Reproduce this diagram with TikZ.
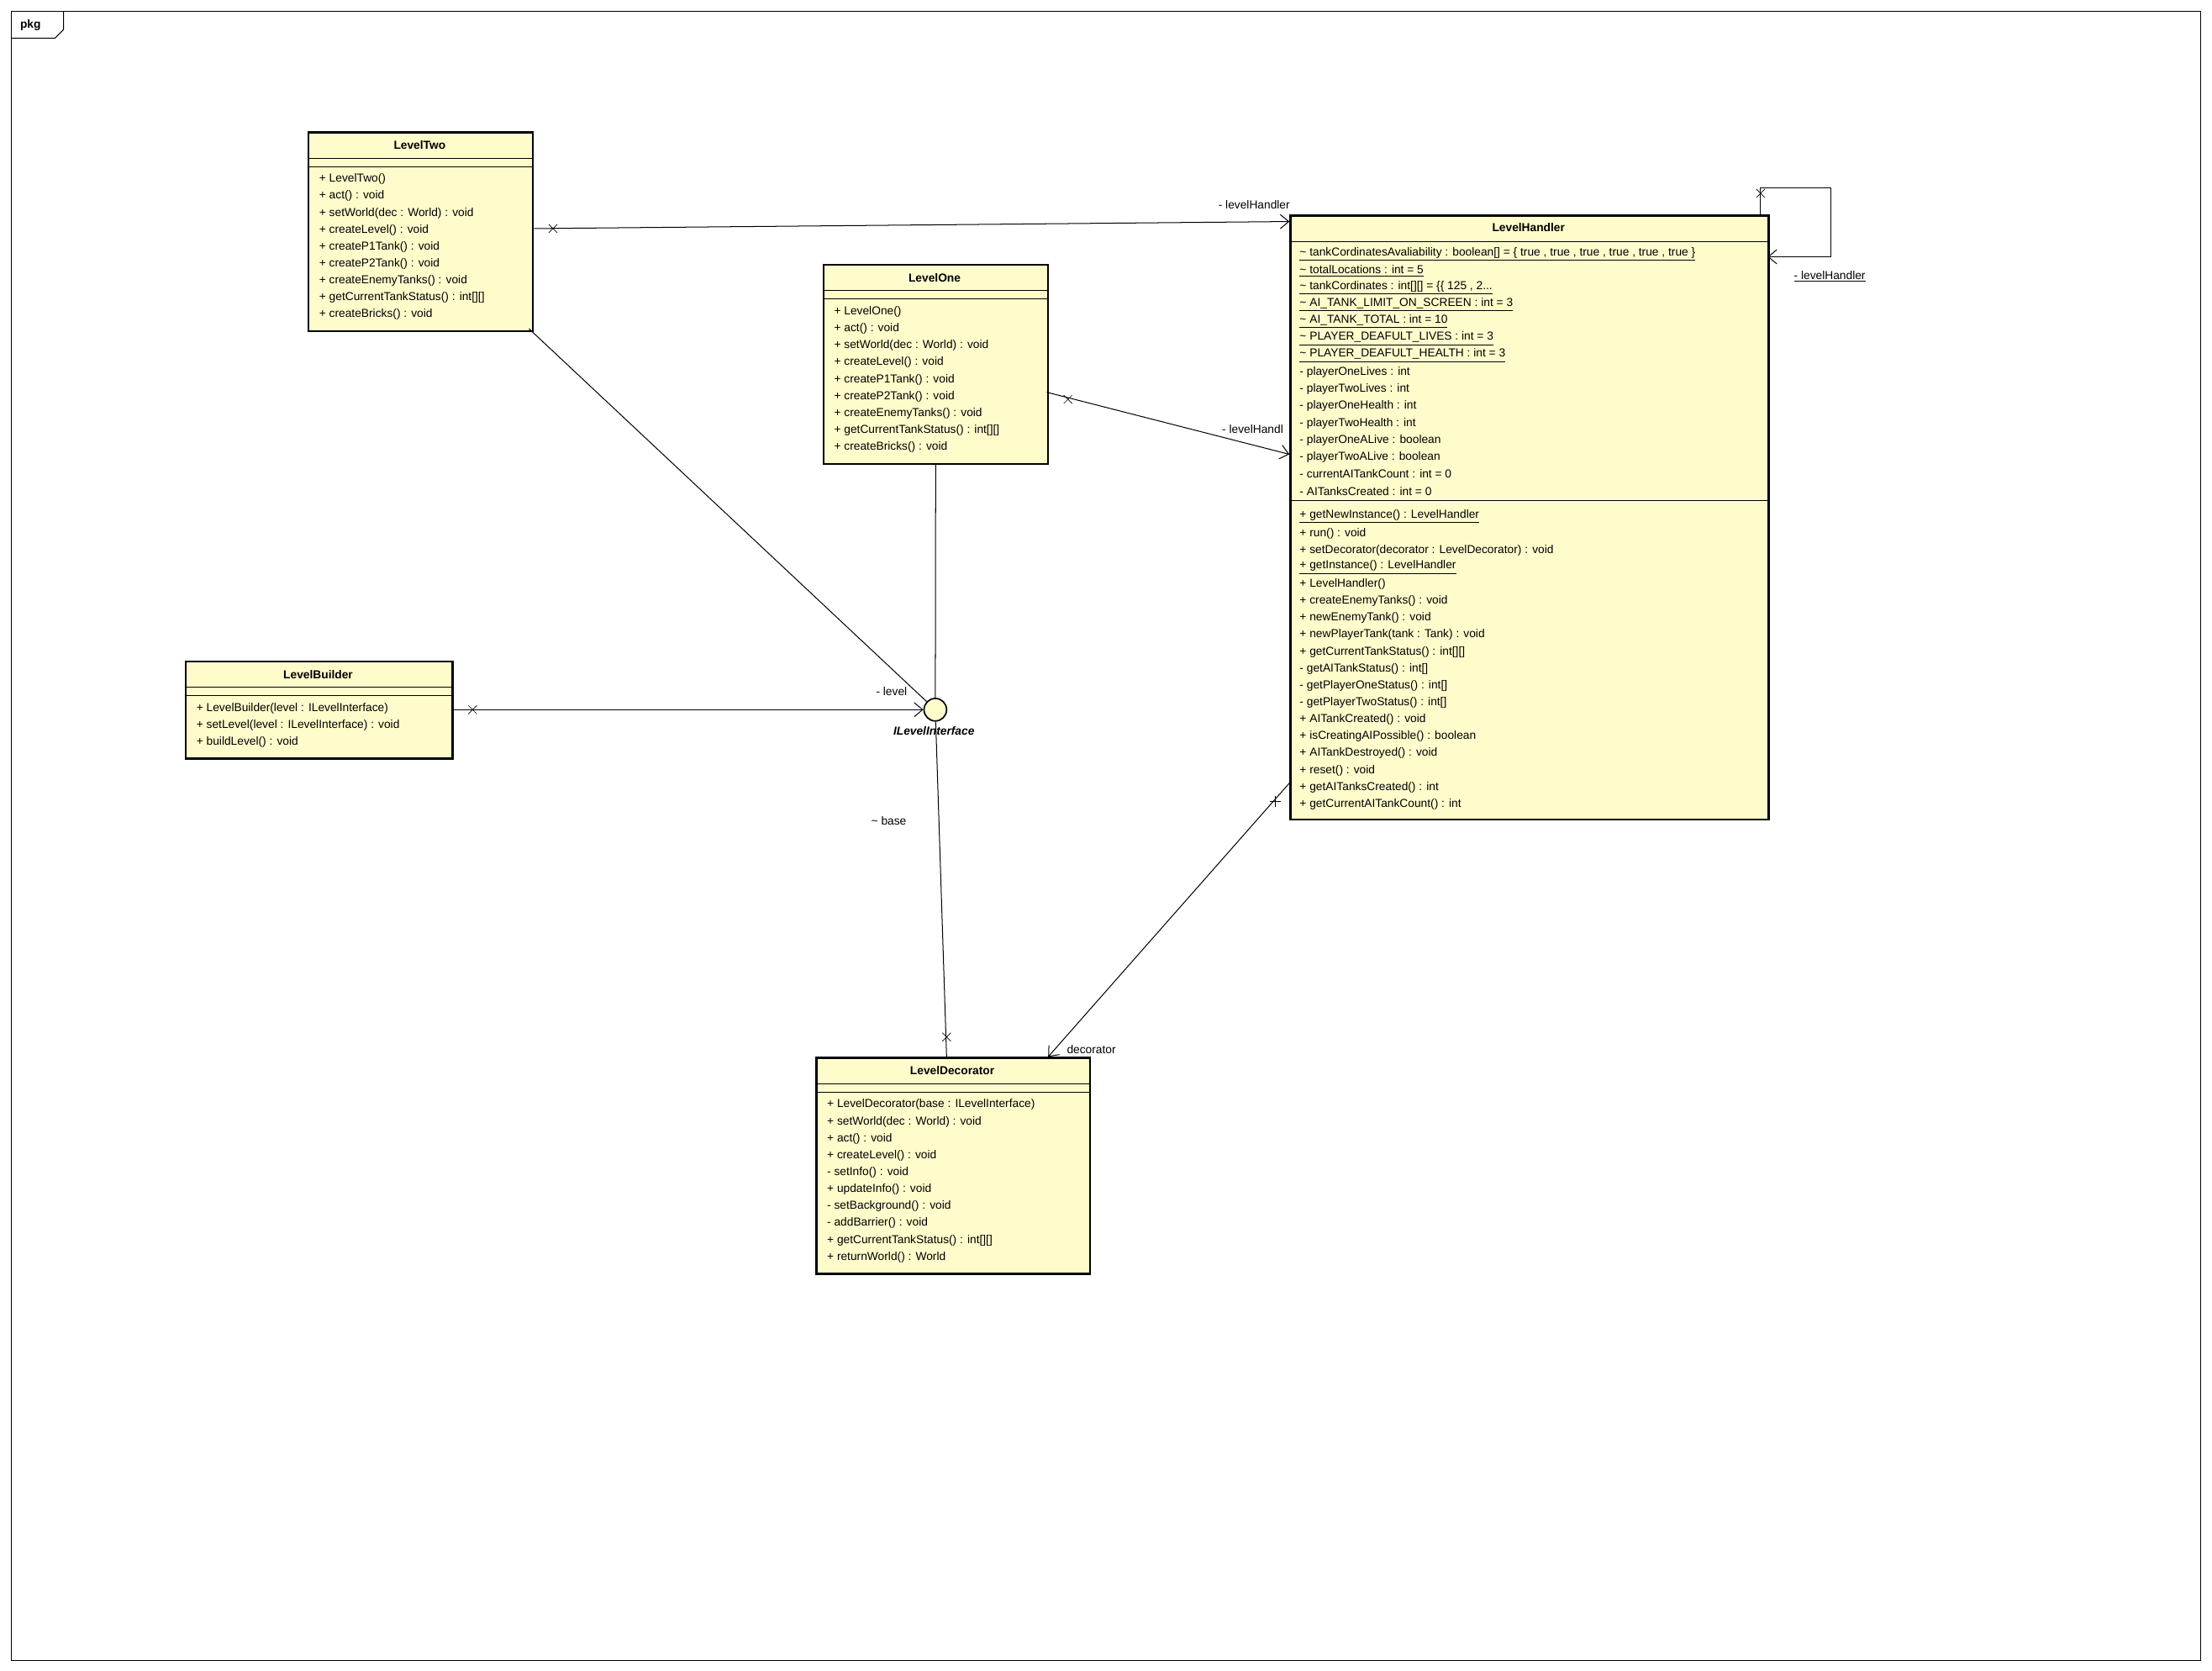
\documentclass[tikz,border=0pt]{standalone}
\usepackage{fontspec}
\setmainfont{Liberation Sans}
\usetikzlibrary{arrows.meta}
\newcommand\xmk[1]{\draw[thin] ($(#1)+(-3,-3)$)--($(#1)+(3,3)$) ($(#1)+(-3,3)$)--($(#1)+(3,-3)$);}
\usetikzlibrary{calc}
\begin{document}
\begin{tikzpicture}[x=1pt,y=-1pt,
 cls/.style={draw,line width=1.5pt,fill=yellow!20,anchor=north west,inner sep=0pt},
 ttl/.style={font=\fontsize{8.2}{10}\selectfont\bfseries,inner sep=0pt},
 ln/.style={anchor=west,inner sep=0pt,font=\fontsize{8.2}{10}\selectfont},
 lbl/.style={inner sep=0pt,font=\fontsize{8.2}{10}\selectfont},
 arr/.style={-{Straight Barb[length=6pt,width=10pt]}},
 every path/.style={line width=0.6pt}]
\useasboundingbox (0,0) rectangle (1568,1184);
\fill[white] (0,0) rectangle (1568,1184);
% frame
\draw (8,8) rectangle (1560,1177);
\draw (8,27) -- (39,27) -- (45,21) -- (45,8);
\node[lbl,font=\fontsize{8.2}{10}\selectfont\bfseries,anchor=west] (pkg) at (14,18) {pkg};
% LevelTwo
\node[cls,minimum width=159pt,minimum height=141pt] (lt) at (218,93) {};
\node[ttl] (ltt) at (297.5,103) {LevelTwo};
\draw (218,112)--(377,112) (218,118)--(377,118);
\foreach \t [count=\i] in {+ LevelTwo(),+ act() : void,+ setWorld(dec : World) : void,+ createLevel() : void,+ createP1Tank() : void,+ createP2Tank() : void,+ createEnemyTanks() : void,+ getCurrentTankStatus() : int[][],+ createBricks() : void}
  \node[ln] at (226,115+12*\i) {\t};
% LevelOne
\node[cls,minimum width=159pt,minimum height=141pt] (lo) at (583,187) {};
\node[ttl] (lot) at (662.5,197) {LevelOne};
\draw (583,206)--(742,206) (583,212)--(742,212);
\foreach \t [count=\i] in {+ LevelOne(),+ act() : void,+ setWorld(dec : World) : void,+ createLevel() : void,+ createP1Tank() : void,+ createP2Tank() : void,+ createEnemyTanks() : void,+ getCurrentTankStatus() : int[][],+ createBricks() : void}
  \node[ln] at (591,209+12*\i) {\t};
% LevelBuilder
\node[cls,minimum width=189pt,minimum height=69pt] (lb) at (131,468) {};
\node[ttl] (lbt) at (225.5,478) {LevelBuilder};
\draw (131,487)--(320,487) (131,493)--(320,493);
\foreach \t [count=\i] in {+ LevelBuilder(level : ILevelInterface),+ setLevel(level : ILevelInterface) : void,+ buildLevel() : void}
  \node[ln] at (139,490+12*\i) {\t};
% LevelDecorator
\node[cls,minimum width=194pt,minimum height=153pt] (ld) at (578,749) {};
\node[ttl] (ldt) at (675,759) {LevelDecorator};
\draw (578,768)--(772,768) (578,774)--(772,774);
\foreach \t [count=\i] in {+ LevelDecorator(base : ILevelInterface),+ setWorld(dec : World) : void,+ act() : void,+ createLevel() : void,- setInfo() : void,+ updateInfo() : void,- setBackground() : void,- addBarrier() : void,+ getCurrentTankStatus() : int[][],+ returnWorld() : World}
  \node[ln] at (586,771+12*\i) {\t};
% LevelHandler
\node[cls,minimum width=339pt,minimum height=428pt] (lh) at (914,152) {};
\node[ttl] (lht) at (1083.5,161) {LevelHandler};
\draw (914,171)--(1253,171) (914,355)--(1253,355);
\foreach \t [count=\i] in {\underline{\textasciitilde{} tankCordinatesAvaliability : boolean[] = \{ true , true , true , true , true , true \}},\underline{\textasciitilde{} totalLocations : int = 5},\underline{\textasciitilde{} tankCordinates : int[][] = \{\{ 125 , 2...},\underline{\textasciitilde{} AI\_TANK\_LIMIT\_ON\_SCREEN : int = 3},\underline{\textasciitilde{} AI\_TANK\_TOTAL : int = 10},\underline{\textasciitilde{} PLAYER\_DEAFULT\_LIVES : int = 3},\underline{\textasciitilde{} PLAYER\_DEAFULT\_HEALTH : int = 3},- playerOneLives : int,- playerTwoLives : int,- playerOneHealth : int,- playerTwoHealth : int,- playerOneALive : boolean,- playerTwoALive : boolean,- currentAITankCount : int = 0,- AITanksCreated : int = 0}
  \node[ln] at (921,168+12*\i) {\t};
\foreach \t [count=\i] in {\underline{+ getNewInstance() : LevelHandler},+ run() : void,+ setDecorator(decorator : LevelDecorator) : void,\underline{+ getInstance() : LevelHandler},+ LevelHandler(),+ createEnemyTanks() : void,+ newEnemyTank() : void,+ newPlayerTank(tank : Tank) : void,+ getCurrentTankStatus() : int[][],- getAITankStatus() : int[],- getPlayerOneStatus() : int[],- getPlayerTwoStatus() : int[],+ AITankCreated() : void,+ isCreatingAIPossible() : boolean,+ AITankDestroyed() : void,+ reset() : void,+ getAITanksCreated() : int,+ getCurrentAITankCount() : int}
  \node[ln] at (921,354+12*\i) {\t};
% interface
\node[draw,circle,fill=yellow!20,minimum size=16pt,inner sep=0pt,line width=1pt] (ii) at (663,503) {};
\node[lbl,font=\fontsize{8.2}{10}\selectfont\bfseries\itshape] (iit) at (662,518) {ILevelInterface};
% connectors
\draw[arr] (lt.north east |- 0,162) coordinate (a1) -- (lh.north west |- 0,157);
\xmk{392,162}
\node[lbl] (l1) at (889,145) {- levelHandler};
\draw[arr] (742,278) -- (lh.north west |- 0,322);
\xmk{757,283}
\node[lbl,anchor=west] (l2) at (866,304) {- levelHandl};
\draw (375,233) -- (ii);
\draw (lo.south) -- (ii);
\draw[arr] (lb.east |- 0,503) -- (ii.west);
\xmk{335,503}
\node[lbl] (l3) at (632,490) {- level};
\draw (ii) -- (ld.north -| 671,0);
\xmk{671,735}
\node[lbl] (l4) at (630,582) {\textasciitilde{} base};
\draw[arr] (914,555) -- (743,749);
\draw ($(904,568)+(-4,0)$)--($(904,568)+(4,0)$) ($(904,568)+(0,-4)$)--($(904,568)+(0,4)$);
\node[lbl,anchor=west] (l5) at (756,744) {decorator};
\coordinate (s1) at (1248,133);
\coordinate (s2) at (1298,133);
\coordinate (s3) at (1298,182);
\draw[arr] (lh.north -| 1248,0) -- (s1) -- (s2) -- (s3) -- (1253,182);
\xmk{1248,137}
\node[lbl] (l6) at (1297,196) {\underline{- levelHandler}};
\end{tikzpicture}
\end{document}
